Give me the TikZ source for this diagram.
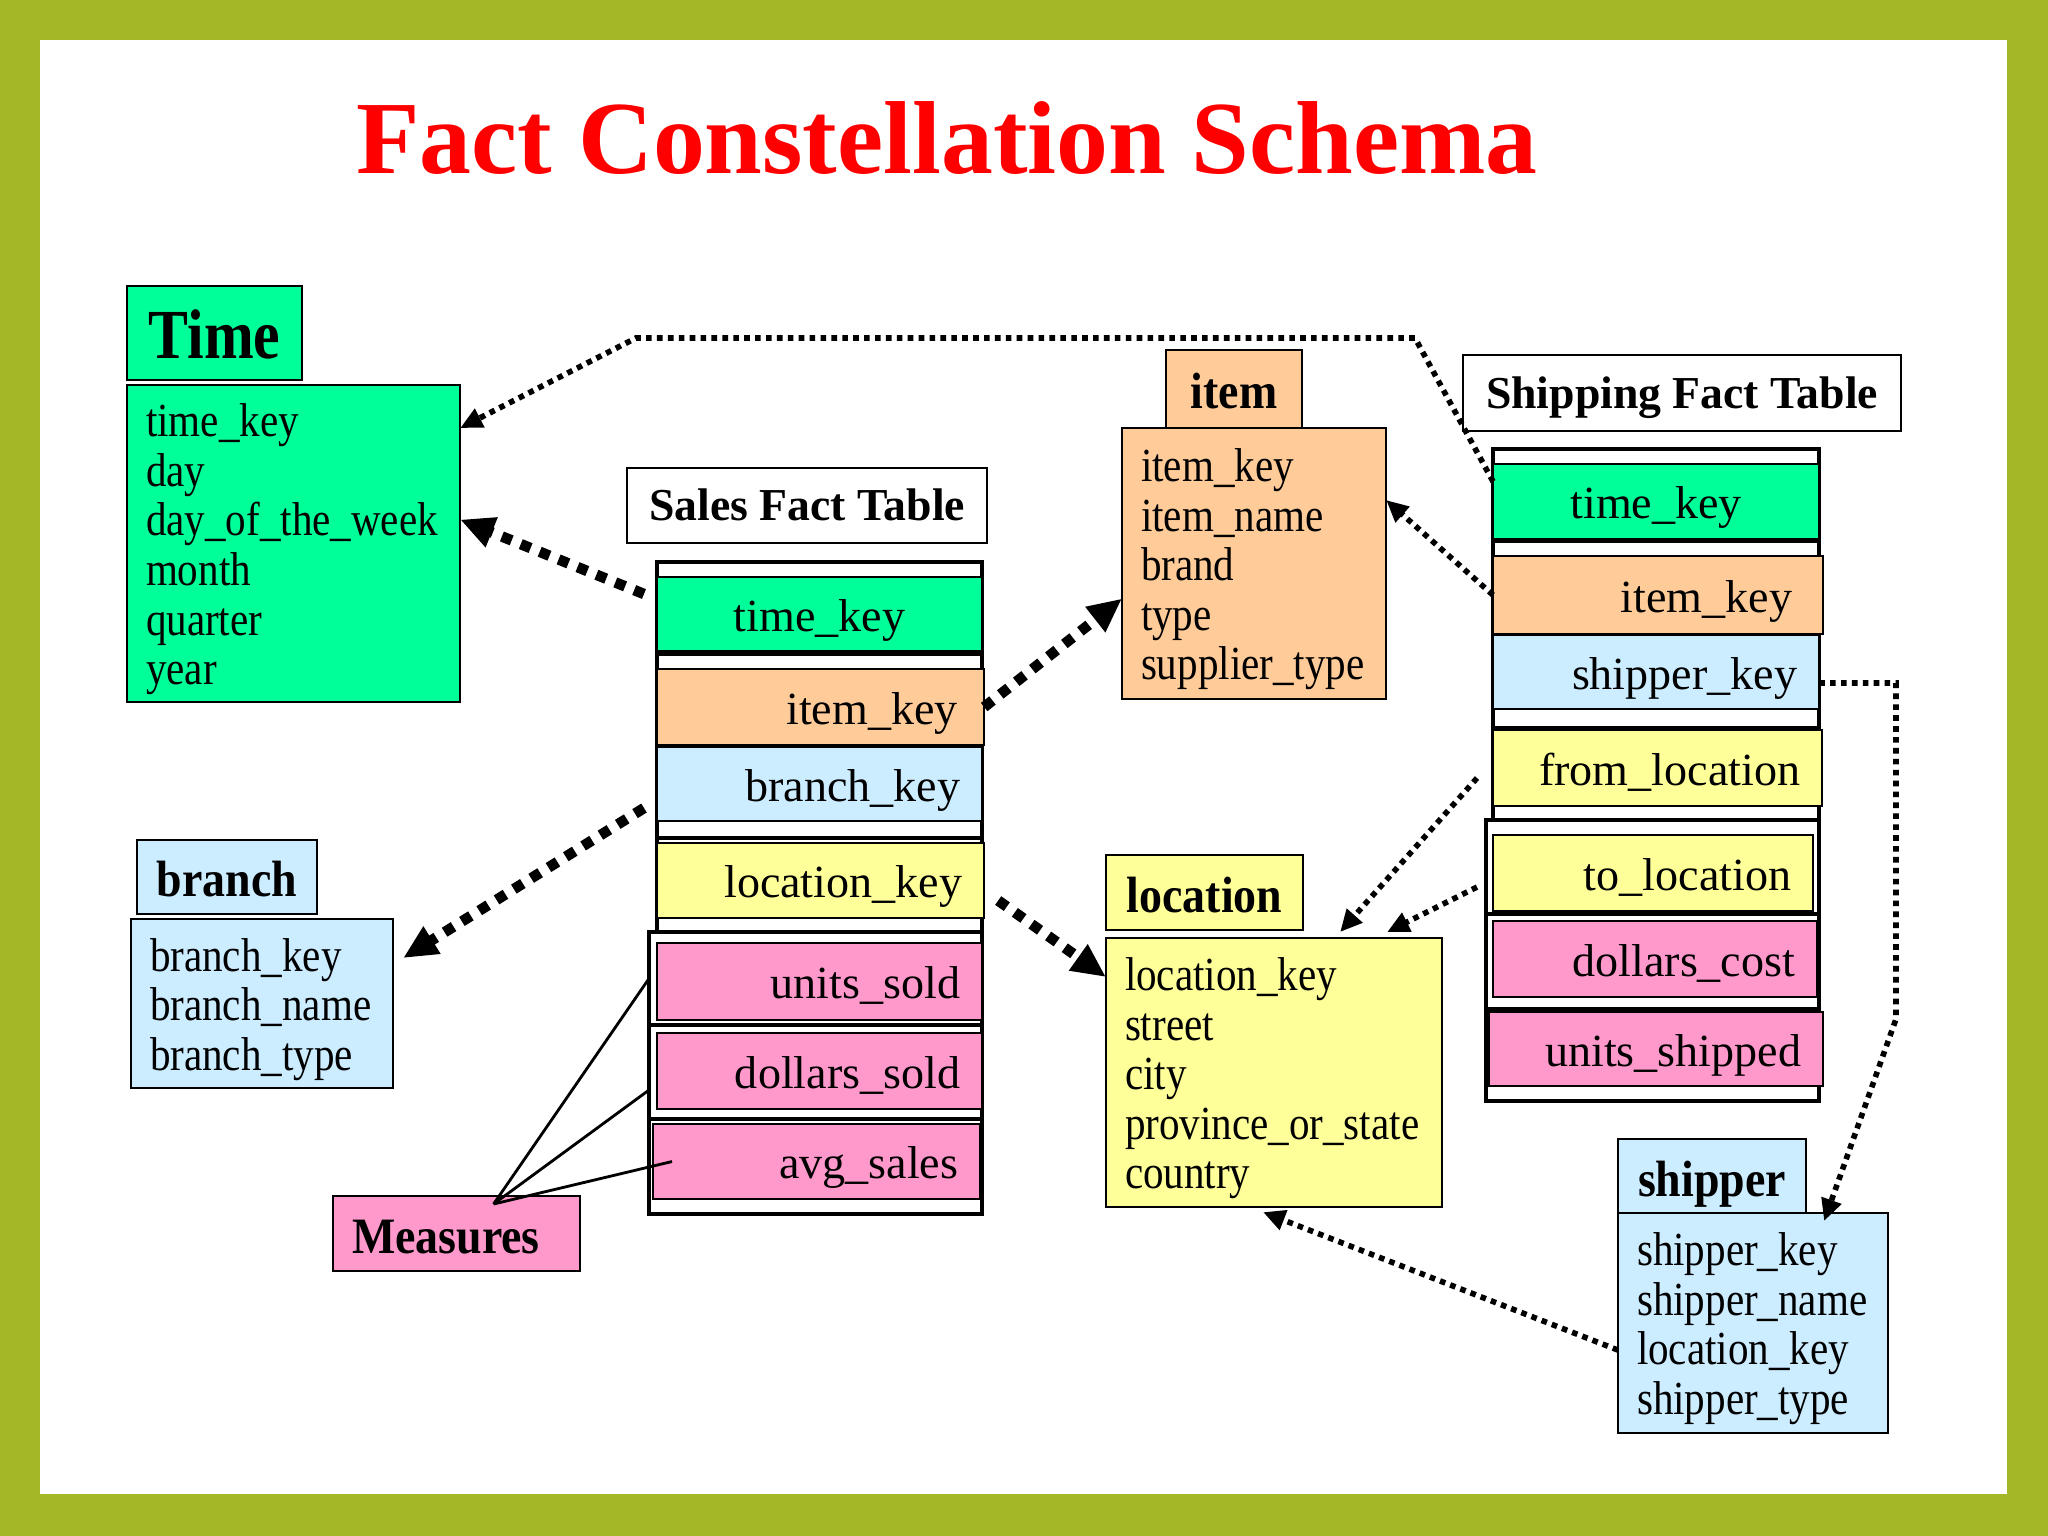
\documentclass[tikz,border=0pt]{standalone}
\usepackage{fontspec}
\setmainfont{Liberation Serif}
\newfontfamily\narrowserif[FakeStretch=0.865]{Liberation Serif}
\newfontfamily\headserif[FakeStretch=0.9]{Liberation Serif}
\newfontfamily\timeserif[FakeStretch=0.85]{Liberation Serif}
\usetikzlibrary{arrows.meta}
\definecolor{frameolive}{RGB}{164,183,38}
\definecolor{titlered}{RGB}{255,0,0}
\definecolor{keygreen}{RGB}{0,255,153}
\definecolor{keyorange}{RGB}{255,204,153}
\definecolor{keyblue}{RGB}{204,236,255}
\definecolor{keyyellow}{RGB}{255,255,153}
\definecolor{keypink}{RGB}{255,153,204}

\begin{document}
\begin{tikzpicture}[
    x=0.01cm, y=-0.01cm,
    dimhead/.style={rectangle, draw, line width=0.6pt, anchor=north west, inner sep=0pt, outer sep=0pt, text height=13.1pt, text depth=2pt, font=\headserif\bfseries\fontsize{14.5}{17}\selectfont},
    dimbody/.style={rectangle, draw, line width=0.6pt, anchor=north west, inner xsep=0.19cm, inner ysep=0pt, outer sep=0pt, align=left, text height=12.6pt, font=\narrowserif\fontsize{13.5}{14.1}\selectfont},
    tablelabel/.style={rectangle, draw, fill=white, line width=0.6pt, anchor=north west, inner sep=0pt, outer sep=0pt, text height=10.2pt, text depth=1.5pt, font=\bfseries\fontsize{13}{15}\selectfont},
    cell/.style={rectangle, draw, fill=white, line width=1pt, anchor=north west, inner sep=0pt, outer sep=0pt},
    field/.style={rectangle, draw, line width=0.6pt, anchor=north west, inner xsep=0.22cm, inner ysep=0pt, outer sep=0pt, align=right, text height=11.4pt, text depth=1.5pt, font=\fontsize{13.1}{15.7}\selectfont},
    fklink/.style={line width=3pt, dash pattern=on 3pt off 2.8pt, -{Triangle[length=0.34cm, width=0.3cm]}},
    reflink/.style={line width=1.6pt, dash pattern=on 1.6pt off 1.5pt, -{Triangle[length=0.22cm, width=0.2cm]}},
    measureline/.style={line width=0.8pt}
]
    \useasboundingbox (0,0) rectangle (2048,1536);
    \fill[frameolive] (0,0) rectangle (2048,1536);
    \fill[white] (40,40) rectangle (2007,1494);

    \node[text=titlered, font=\bfseries\fontsize{29.5}{35}\selectfont] (title) at (947,138) {Fact Constellation Schema};

    % dimension tables
    \node[dimhead, fill=keygreen, minimum width=1.75cm, minimum height=0.94cm, text height=16.2pt, font=\timeserif\bfseries\fontsize{20}{24}\selectfont] (timehead) at (127,286) {Time};
    \node[dimbody, fill=keygreen, text width=2.95cm, minimum height=3.17cm] (timebody) at (127,385) {time\_key\\day\\day\_of\_the\_week\\month\\quarter\\year};

    \node[dimbody, fill=keyorange, text width=2.26cm, minimum height=2.71cm] (itembody) at (1122,428) {item\_key\\item\_name\\brand\\type\\supplier\_type};
    \node[dimhead, fill=keyorange, minimum width=1.36cm, minimum height=0.78cm] (itemhead) at (1166,350) {item};

    \node[dimhead, fill=keyblue, minimum width=1.80cm, minimum height=0.74cm] (branchhead) at (137,840) {branch};
    \node[dimbody, fill=keyblue, text width=2.24cm, minimum height=1.69cm] (branchbody) at (131,919) {branch\_key\\branch\_name\\branch\_type};

    \node[dimhead, fill=keyyellow, minimum width=1.97cm, minimum height=0.75cm] (lochead) at (1106,855) {location};
    \node[dimbody, fill=keyyellow, text width=2.98cm, minimum height=2.69cm] (locbody) at (1106,938) {location\_key\\street\\city\\province\_or\_state\\country};

    \node[dimhead, fill=keyblue, minimum width=1.88cm, minimum height=0.76cm] (shiphead) at (1618,1139) {shipper};
    \node[dimbody, fill=keyblue, text width=2.32cm, minimum height=2.20cm] (shipbody) at (1618,1213) {shipper\_key\\shipper\_name\\location\_key\\shipper\_type};

    \node[dimhead, fill=keypink, minimum height=0.75cm, inner xsep=0.19cm, text width=2.09cm, align=left] (measures) at (333,1196) {Measures};

    % sales fact table
    \node[tablelabel, minimum width=3.60cm, minimum height=0.75cm] (saleslabel) at (627,468) {Sales Fact Table};
    \node[cell, minimum width=3.25cm, minimum height=0.92cm] (sc1) at (657,562) {};
    \node[cell, minimum width=3.25cm, minimum height=0.93cm] (sc2) at (657,654) {};
    \node[cell, minimum width=3.25cm, minimum height=0.91cm] (sc3) at (657,747) {};
    \node[cell, minimum width=3.25cm, minimum height=0.94cm] (sc4) at (657,838) {};
    \node[cell, minimum width=3.33cm, minimum height=0.93cm] (sc5) at (649,932) {};
    \node[cell, minimum width=3.33cm, minimum height=0.94cm] (sc6) at (649,1025) {};
    \node[cell, minimum width=3.33cm, minimum height=0.95cm] (sc7) at (649,1119) {};
    \node[field, fill=keygreen, align=center, text width=2.81cm, minimum height=0.74cm] (stime) at (657,577) {time\_key};
    \node[field, fill=keyorange, text width=2.74cm, minimum width=3.27cm, minimum height=0.76cm] (sitem) at (657,669) {item\_key};
    \node[field, fill=keyblue, text width=2.81cm, minimum height=0.74cm] (sbranch) at (657,747) {branch\_key};
    \node[field, fill=keyyellow, text width=2.83cm, minimum height=0.75cm] (sloc) at (657,843) {location\_key};
    \node[field, fill=keypink, text width=2.81cm, minimum height=0.77cm] (sunits) at (657,943) {units\_sold};
    \node[field, fill=keypink, text width=2.81cm, minimum height=0.76cm] (sdollars) at (657,1033) {dollars\_sold};
    \node[field, fill=keypink, text width=2.83cm, minimum height=0.75cm] (savg) at (653,1124) {avg\_sales};

    % shipping fact table
    \node[tablelabel, minimum width=4.38cm, minimum height=0.76cm] (shiplabel) at (1463,355) {Shipping Fact Table};
    \node[cell, minimum width=3.26cm, minimum height=0.92cm] (hc1) at (1493,449) {};
    \node[cell, minimum width=3.26cm, minimum height=0.93cm] (hc2) at (1493,541) {};
    \node[cell, minimum width=3.26cm, minimum height=0.94cm] (hc3) at (1493,634) {};
    \node[cell, minimum width=3.26cm, minimum height=0.92cm] (hc4) at (1493,728) {};
    \node[cell, minimum width=3.33cm, minimum height=0.94cm] (hc5) at (1486,820) {};
    \node[cell, minimum width=3.33cm, minimum height=0.95cm] (hc6) at (1486,914) {};
    \node[cell, minimum width=3.33cm, minimum height=0.92cm] (hc7) at (1486,1009) {};
    \node[field, fill=keygreen, align=center, text width=2.82cm, minimum height=0.75cm] (htime) at (1493,464) {time\_key};
    \node[field, fill=keyorange, text width=2.68cm, minimum width=3.30cm, minimum height=0.78cm] (hitem) at (1493,556) {item\_key};
    \node[field, fill=keyblue, text width=2.82cm, minimum height=0.74cm] (hship) at (1493,635) {shipper\_key};
    \node[field, fill=keyyellow, text width=2.85cm, minimum height=0.76cm] (hfrom) at (1493,730) {from\_location};
    \node[field, fill=keyyellow, text width=2.76cm, minimum height=0.76cm] (hto) at (1493,835) {to\_location};
    \node[field, fill=keypink, text width=2.80cm, minimum height=0.76cm] (hcost) at (1493,921) {dollars\_cost};
    \node[field, fill=keypink, text width=2.90cm, minimum height=0.74cm] (hunits) at (1489,1012) {units\_shipped};

    % measures
    \draw[measureline] (sc5.west) -- ([xshift=0.37cm, yshift=-0.08cm]measures.north);
    \draw[measureline] ([yshift=-0.18cm]sc6.west) -- ([xshift=0.37cm, yshift=-0.08cm]measures.north);
    \draw[measureline] ([xshift=0.19cm]savg.west) -- ([xshift=0.37cm, yshift=-0.08cm]measures.north);

    % keys of the sales fact table
    \draw[fklink] ([xshift=-0.13cm, yshift=0.2cm]stime.west) -- ([yshift=0.24cm]timebody.east);
    \draw[fklink] (sitem.east) -- ([yshift=-0.35cm]itembody.west);
    \draw[fklink] ([xshift=-0.13cm, yshift=-0.24cm]sbranch.west) -- ([xshift=0.1cm, yshift=-0.39cm]branchbody.north east);
    \draw[fklink] ([xshift=0.14cm, yshift=-0.2cm]sloc.east) -- ([yshift=-0.39cm]locbody.north west);

    % keys of the shipping fact table
    \coordinate (timebendR) at (1415,338);
    \coordinate (timebendL) at (636,338);
    \coordinate (shipbend) at (1896,1019);
    \draw[reflink] ([yshift=0.2cm]htime.west) -- (timebendR) -- (timebendL) -- ([yshift=-0.43cm]timebody.north east);
    \draw[reflink] (hitem.west) -- ([yshift=-0.72cm]itembody.north east);
    \draw[reflink] ([xshift=-0.16cm, yshift=-0.1cm]hfrom.west) -- ([xshift=0.66cm, yshift=0.06cm]locbody.north);
    \draw[reflink] ([xshift=-0.16cm, yshift=-0.14cm]hto.west) -- ([xshift=1.13cm, yshift=0.06cm]locbody.north);
    \draw[reflink] ([yshift=-0.11cm]hship.east) -| (shipbend) -- ([xshift=-0.64cm, yshift=-0.08cm]shipbody.north east);
    \draw[reflink] ([yshift=-0.27cm]shipbody.west) -- ([xshift=-0.11cm, yshift=-0.05cm]locbody.south);
\end{tikzpicture}
\end{document}
